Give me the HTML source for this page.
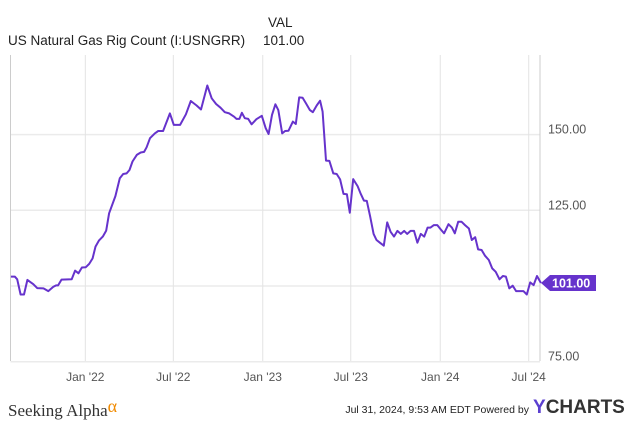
<!DOCTYPE html>
<html><head><meta charset="utf-8">
<style>
body{margin:0;background:#fff;font-family:"Liberation Sans",sans-serif;}
#wrap{position:relative;width:635px;height:424px;overflow:hidden;background:#fff;}
.t{position:absolute;white-space:nowrap;color:#222;}
</style></head><body>
<div id="wrap">
<div class="t" style="left:268px;top:15px;font-size:13.5px;">VAL</div>
<div class="t" style="left:8px;top:33px;font-size:13.5px;">US Natural Gas Rig Count (I:USNGRR)</div>
<div class="t" style="left:263px;top:33px;font-size:13.5px;">101.00</div>
<svg id="chart" width="635" height="424" style="position:absolute;left:0;top:0"></svg>
<div class="t" style="left:8px;top:396px;font-size:17px;font-family:'Liberation Serif',serif;color:#333;">Seeking Alpha<span style="color:#f08a00;font-size:18px;vertical-align:4px;">α</span></div>
<div class="t" style="right:106px;top:404px;font-size:10.5px;color:#222;">Jul 31, 2024, 9:53 AM EDT Powered by</div>
<div class="t" style="left:533px;top:397px;font-size:19px;font-weight:bold;color:#333;"><span style="color:#5b3fd0">Y</span>CHARTS</div>
</div>
<script>
const days=[-153,-145,-140,-133,-126,-119,-107,-99,-86,-76,-66,-60,-56,-49,-28,-21,-14,-7,1,8,15,21,28,36,43,49,62,71,78,85,91,97,106,114,121,126,133,143,150,160,174,182,195,207,217,229,238,251,260,269,278,287,296,306,311,317,322,328,335,342,352,363,371,377,384,391,397,405,411,418,427,433,440,447,454,462,468,476,483,488,495,502,510,517,524,531,538,544,551,560,566,573,579,586,593,599,606,614,621,628,635,642,649,656,662,669,676,683,690,697,704,710,717,724,731,738,747,754,760,767,774,781,789,795,802,808,815,822,830,837,844,852,859,865,872,879,886,894,901,908,915,922,929,937];
const values=[103.1,103.1,102.2,97.2,97.2,102.0,100.6,99.3,99.2,98.3,99.7,100.2,100.2,102.1,102.2,105.1,104.2,106.1,106.2,107.3,109.1,113.0,115.0,116.3,118.3,124.0,129.7,135.6,137.0,137.2,138.3,141.1,143.3,144.1,144.3,145.8,148.8,150.4,151.2,151.2,157.0,153.2,153.2,156.7,161.1,159.6,158.3,166.2,162.0,160.1,158.9,157.4,157.0,155.9,155.2,155.2,157.2,155.4,155.2,153.4,155.1,156.2,152.1,150.2,156.5,160.0,158.1,150.4,151.2,151.3,154.3,153.5,162.3,162.2,160.3,158.1,157.4,159.6,161.2,157.6,141.4,141.3,137.2,137.0,135.2,130.4,130.3,124.2,135.3,133.0,130.6,128.2,128.1,122.9,117.2,115.2,114.3,113.3,121.0,117.9,116.3,118.2,117.2,118.2,117.2,118.2,118.2,114.3,117.2,116.3,119.3,119.3,120.1,120.1,118.7,117.4,120.4,119.3,117.4,121.2,121.2,120.1,119.0,115.2,116.1,112.1,111.9,110.0,108.6,105.8,104.7,102.2,103.3,103.1,99.2,100.1,98.3,98.3,98.3,97.2,101.2,100.3,103.3,101.0];
const yTicks=[75,100,125,150];
const yLabels=["75.00","","125.00","150.00"];
const xTickDays=[0,181,365,546,730,912];
const xLabels=["Jan '22","Jul '22","Jan '23","Jul '23","Jan '24","Jul '24"];
const lastLabel="101.00";

const svg=document.getElementById('chart');
const NS='http://www.w3.org/2000/svg';
const L=10.5,R=540,T=55,B=361;
const xs=d=>85.3+d*0.4862;
const ys=v=>286-(v-100)*3.028;
function mk(tag,attrs){const e=document.createElementNS(NS,tag);for(const k in attrs)e.setAttribute(k,attrs[k]);svg.appendChild(e);return e;}
yTicks.forEach((v,i)=>{
  const g=mk('line',{x1:L,x2:R,y1:ys(v),y2:ys(v),stroke:'#ebebeb','stroke-width':1.5});
  
  
  if(yLabels[i]){const t=mk('text',{x:548,y:ys(v)-1,'font-size':12.5,fill:'#555','font-family':'Liberation Sans, sans-serif'});t.textContent=yLabels[i];
  
  }
});
xTickDays.forEach((d,i)=>{
  const g=mk('line',{x1:xs(d),x2:xs(d),y1:T,y2:B,stroke:'#e3e3e3','stroke-width':1});
  
  
  const t=mk('text',{x:xs(d),y:381,'font-size':12,fill:'#555','text-anchor':'middle','font-family':'Liberation Sans, sans-serif'});t.textContent=xLabels[i];
  
  
});
const a1=mk('line',{x1:L,x2:L,y1:T,y2:B,stroke:'#ccc','stroke-width':1});


const a2=mk('line',{x1:R,x2:R,y1:T,y2:B,stroke:'#ccc','stroke-width':1});


const pts=days.map((d,i)=>xs(d).toFixed(1)+','+ys(values[i]).toFixed(1)).join(' ');
const pl=mk('polyline',{points:pts,fill:'none',stroke:'#6633cc','stroke-width':2,'stroke-linejoin':'round'});


const ly=ys(values[values.length-1]);
const tag=mk('path',{d:`M541,${ly} L550,${ly-8} L596,${ly-8} L596,${ly+8} L550,${ly+8} Z`,fill:'#6633cc'});


const tt=mk('text',{x:552,y:ly+4.5,'font-size':12.5,'font-weight':'bold',fill:'#fff','font-family':'Liberation Sans, sans-serif'});tt.textContent=lastLabel;


</script>
</body></html>
